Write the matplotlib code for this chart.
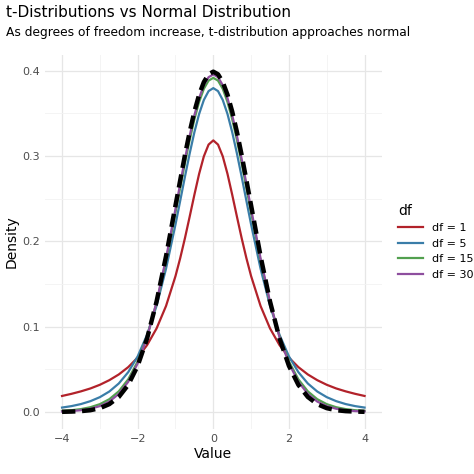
import matplotlib.pyplot as plt
import numpy as np

# density values read at x >= 0 (curves are symmetric)
x_half = np.array([0, 0.125, 0.25, 0.375, 0.5, 0.625, 0.75, 0.875, 1, 1.25, 1.5,
                   1.75, 2, 2.25, 2.5, 2.75, 3, 3.25, 3.5, 3.75, 4])
df1 = [0.3183, 0.3134, 0.2996, 0.2791, 0.2546, 0.2289, 0.2037, 0.1803, 0.1592,
       0.1242, 0.0979, 0.0784, 0.0637, 0.0525, 0.0439, 0.0372, 0.0318, 0.0275,
       0.0241, 0.0212, 0.0187]
df5 = [0.3796, 0.3761, 0.3657, 0.3493, 0.3279, 0.3029, 0.2757, 0.2476, 0.2197,
       0.1679, 0.1245, 0.0905, 0.0651, 0.0466, 0.0333, 0.0239, 0.0173, 0.0126,
       0.0092, 0.0068, 0.0051]
df15 = [0.3916, 0.3884, 0.3788, 0.3634, 0.3431, 0.3188, 0.2917, 0.2630, 0.2337,
        0.1772, 0.1280, 0.0886, 0.0591, 0.0382, 0.0241, 0.0149, 0.0091, 0.0055,
        0.0033, 0.0020, 0.0012]
df30 = [0.3956, 0.3924, 0.3831, 0.3679, 0.3479, 0.3237, 0.2966, 0.2677, 0.2380,
        0.1801, 0.1290, 0.0877, 0.0568, 0.0353, 0.0211, 0.0121, 0.0068, 0.0037,
        0.0020, 0.0010, 0.0005]
normal = [0.3989, 0.3958, 0.3867, 0.3719, 0.3521, 0.3282, 0.3011, 0.2717, 0.2420,
          0.1826, 0.1295, 0.0863, 0.0540, 0.0317, 0.0175, 0.0091, 0.0044, 0.0020,
          0.0009, 0.0004, 0.0001]

labels = ['df = 1', 'df = 5', 'df = 15', 'df = 30']
colors = ['#B2222A', '#3A7DA8', '#52A04F', '#8E4E9E']

def full(v):
    v = np.array(v)
    return np.concatenate([v[:0:-1], v])

x = np.concatenate([-x_half[:0:-1], x_half])

fig = plt.figure(figsize=(4.74, 4.74), dpi=100)
ax = fig.add_axes([0.095, 0.095, 0.71, 0.79])
for vals, lab, c in zip([df1, df5, df15, df30], labels, colors):
    ax.plot(x, full(vals), color=c, lw=1.6, label=lab)
ax.plot(x, full(normal), color='black', lw=3.2, ls=(0, (3, 1.5)))

ax.set_xlim(-4.45, 4.45)
ax.set_ylim(-0.02, 0.419)
ax.set_xticks([-4, -2, 0, 2, 4])
ax.set_xticks([-3, -1, 1, 3], minor=True)
ax.set_yticks([0, 0.1, 0.2, 0.3, 0.4])
ax.set_yticklabels(['0.0', '0.1', '0.2', '0.3', '0.4'])
ax.set_yticks([0.05, 0.15, 0.25, 0.35], minor=True)
ax.grid(which='major', color='#e6e6e6', lw=0.9)
ax.grid(which='minor', color='#f2f2f2', lw=0.6)
for s in ax.spines.values():
    s.set_visible(False)
ax.tick_params(which='both', length=0, colors='#4d4d4d', labelsize=8)
ax.set_xlabel('Value', fontsize=10, labelpad=2)
ax.set_ylabel('Density', fontsize=10, labelpad=3)

fig.text(0.012, 0.965, 't-Distributions vs Normal Distribution', fontsize=11)
fig.text(0.012, 0.925, 'As degrees of freedom increase, t-distribution approaches normal', fontsize=8.8)

leg = ax.legend(loc='center left', bbox_to_anchor=(1.02, 0.5), frameon=False,
                title='df', fontsize=8, handlelength=2.2, alignment='left')
leg.get_title().set_fontsize(10)

fig.savefig('out.png', dpi=100)
